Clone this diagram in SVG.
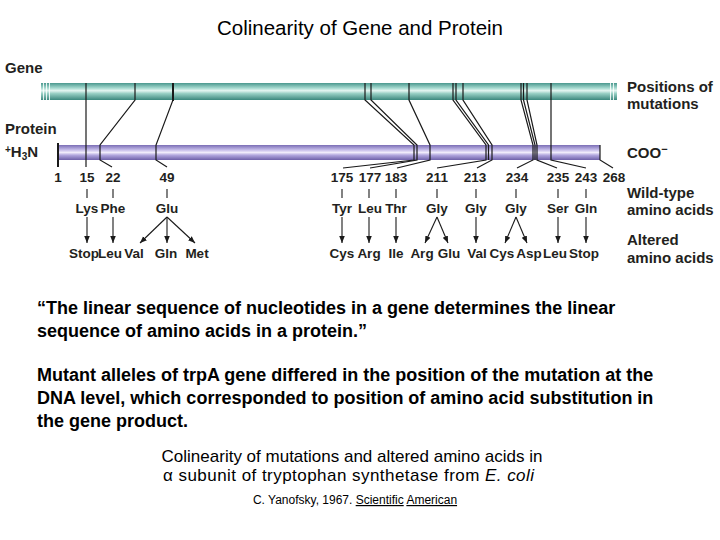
<svg xmlns="http://www.w3.org/2000/svg" width="720" height="540" viewBox="0 0 720 540">
<defs>
<linearGradient id="gGene" x1="0" y1="0" x2="0" y2="1">
<stop offset="0" stop-color="#4a988e"/>
<stop offset="0.3" stop-color="#a6dad0"/>
<stop offset="0.45" stop-color="#e4f5f1"/>
<stop offset="0.62" stop-color="#98cfc4"/>
<stop offset="1" stop-color="#3c887e"/>
</linearGradient>
<linearGradient id="gProt" x1="0" y1="0" x2="0" y2="1">
<stop offset="0" stop-color="#7a6db5"/>
<stop offset="0.33" stop-color="#c6bdea"/>
<stop offset="0.5" stop-color="#f0ecfb"/>
<stop offset="0.68" stop-color="#b1a6de"/>
<stop offset="1" stop-color="#6e61a9"/>
</linearGradient>
<marker id="ah" viewBox="0 0 10 10" refX="10" refY="5" markerWidth="7" markerHeight="7" orient="auto-start-reverse" markerUnits="userSpaceOnUse">
<path d="M0,1 L10,5 L0,9 Z" fill="#1a1a1a"/>
</marker>
<style>
.lbl{font-family:"Liberation Sans",Arial,sans-serif;font-weight:bold;font-size:13.5px;fill:#231f20;text-anchor:middle}
.side{font-family:"Liberation Sans",Arial,sans-serif;font-weight:bold;font-size:15px;fill:#231f20}
.ln{fill:none;stroke:#1a1a1a;stroke-width:1.2}
.tk{stroke:#1a1a1a;stroke-width:1.1}
.ar{stroke:#1a1a1a;stroke-width:1.1;marker-end:url(#ah)}
.body{font-family:"Liberation Sans",Arial,sans-serif;font-weight:bold;font-size:18px;fill:#000}
.cap{font-family:"Liberation Sans",Arial,sans-serif;font-size:17px;fill:#000}
</style>
</defs>
<rect width="720" height="540" fill="#fff"/>

<text x="360" y="35" text-anchor="middle" font-family="Liberation Sans,Arial,sans-serif" font-size="20.5" fill="#000">Colinearity of Gene and Protein</text>

<g id="gene">
<rect x="41" y="83" width="576" height="17" fill="url(#gGene)"/>
<g stroke="#fff" stroke-width="1" opacity="0.85">
<line x1="43.5" y1="83" x2="43.5" y2="100"/><line x1="46.5" y1="83" x2="46.5" y2="100"/><line x1="49.5" y1="83" x2="49.5" y2="100"/>
<line x1="610.5" y1="83" x2="610.5" y2="100"/><line x1="613.5" y1="83" x2="613.5" y2="100"/>
</g>
<text class="side" x="5" y="73">Gene</text>
<text class="side" x="627" y="92">Positions of</text>
<text class="side" x="627" y="109">mutations</text>
</g>

<g id="protein">
<rect x="58" y="145" width="542" height="15" fill="url(#gProt)"/>
<line x1="58" y1="143" x2="58" y2="167" stroke="#1a1a1a" stroke-width="2"/>
<text class="side" x="5" y="134">Protein</text>
<text class="side" x="5" y="157"><tspan font-size="10" dy="-4">+</tspan><tspan dy="4">H</tspan><tspan font-size="10" dy="3">3</tspan><tspan dy="-3">N</tspan></text>
<text class="side" x="627" y="158">COO<tspan font-size="11" dy="-5">−</tspan></text>
</g>

<g id="connectors">
<path class="ln" d="M86,83 V167"/>
<path class="ln" d="M135,83 V100 L100,145 V160 L112,167"/>
<path class="ln" d="M173,83 V100 L156,145 V160 L167,167"/>
<path d="M173,83 V101" stroke="#1a1a1a" stroke-width="2"/>
<path class="ln" d="M365,83 V100 L414,145 V160 L343,168"/>
<path class="ln" d="M371,83 V100 L417,145 V160 L370,168"/>
<path class="ln" d="M409,83 V100 L430,145 V160 L397,168"/>
<path class="ln" d="M453,83 V100 L486,145 V160 L437,168"/>
<path class="ln" d="M456,83 V100 L488.5,145 V160"/>
<path class="ln" d="M463,83 V100 L492,145 V160 L477,168"/>
<path class="ln" d="M521,83 V100 L533,145 V160 L517,168"/>
<path class="ln" d="M523.5,83 V100 L535,145 V160"/>
<path class="ln" d="M527,83 V100 L537,145 V160 L557,168"/>
<path class="ln" d="M551,83 V160 L586,168"/>
<path class="ln" d="M600,145 V160 L613,168"/>
</g>

<g id="positions">
<text class="lbl" x="58" y="182">1</text>
<text class="lbl" x="87" y="182">15</text>
<text class="lbl" x="113" y="182">22</text>
<text class="lbl" x="167" y="182">49</text>
<text class="lbl" x="342" y="182">175</text>
<text class="lbl" x="370" y="182">177</text>
<text class="lbl" x="396" y="182">183</text>
<text class="lbl" x="437" y="182">211</text>
<text class="lbl" x="475" y="182">213</text>
<text class="lbl" x="517" y="182">234</text>
<text class="lbl" x="558" y="182">235</text>
<text class="lbl" x="586" y="182">243</text>
<text class="lbl" x="614" y="182">268</text>
</g>

<g id="ticks">
<line class="tk" x1="87" y1="189" x2="87" y2="198"/>
<line class="tk" x1="113" y1="189" x2="113" y2="198"/>
<line class="tk" x1="167" y1="189" x2="167" y2="198"/>
<line class="tk" x1="342" y1="189" x2="342" y2="198"/>
<line class="tk" x1="369" y1="189" x2="369" y2="198"/>
<line class="tk" x1="396" y1="189" x2="396" y2="198"/>
<line class="tk" x1="437" y1="189" x2="437" y2="198"/>
<line class="tk" x1="476" y1="189" x2="476" y2="198"/>
<line class="tk" x1="516" y1="189" x2="516" y2="198"/>
<line class="tk" x1="558" y1="189" x2="558" y2="198"/>
<line class="tk" x1="586" y1="189" x2="586" y2="198"/>
</g>

<g id="wildtype">
<text class="lbl" x="87" y="213">Lys</text>
<text class="lbl" x="113" y="213">Phe</text>
<text class="lbl" x="167" y="213">Glu</text>
<text class="lbl" x="342" y="213">Tyr</text>
<text class="lbl" x="370" y="213">Leu</text>
<text class="lbl" x="396" y="213">Thr</text>
<text class="lbl" x="437" y="213">Gly</text>
<text class="lbl" x="476" y="213">Gly</text>
<text class="lbl" x="516" y="213">Gly</text>
<text class="lbl" x="558" y="213">Ser</text>
<text class="lbl" x="586" y="213">Gln</text>
<text class="side" x="627" y="198">Wild-type</text>
<text class="side" x="627" y="215">amino acids</text>
</g>

<g id="arrows">
<line class="ar" x1="87" y1="217" x2="87" y2="243"/>
<line class="ar" x1="113" y1="217" x2="113" y2="243"/>
<line class="ar" x1="167" y1="217" x2="140" y2="243"/>
<line class="ar" x1="167" y1="217" x2="167" y2="243"/>
<line class="ar" x1="167" y1="217" x2="195" y2="243"/>
<line class="ar" x1="342" y1="217" x2="342" y2="243"/>
<line class="ar" x1="369" y1="217" x2="369" y2="243"/>
<line class="ar" x1="396" y1="217" x2="396" y2="243"/>
<line class="ar" x1="437" y1="217" x2="425" y2="243"/>
<line class="ar" x1="437" y1="217" x2="448" y2="243"/>
<line class="ar" x1="476" y1="217" x2="476" y2="243"/>
<line class="ar" x1="516" y1="217" x2="505" y2="243"/>
<line class="ar" x1="516" y1="217" x2="527" y2="243"/>
<line class="ar" x1="558" y1="217" x2="558" y2="243"/>
<line class="ar" x1="586" y1="217" x2="586" y2="243"/>
</g>

<g id="altered">
<text class="lbl" x="84" y="258">Stop</text>
<text class="lbl" x="110" y="258">Leu</text>
<text class="lbl" x="134" y="258">Val</text>
<text class="lbl" x="166" y="258">Gln</text>
<text class="lbl" x="197" y="258">Met</text>
<text class="lbl" x="342" y="258">Cys</text>
<text class="lbl" x="369" y="258">Arg</text>
<text class="lbl" x="396" y="258">Ile</text>
<text class="lbl" x="422" y="258">Arg</text>
<text class="lbl" x="449" y="258">Glu</text>
<text class="lbl" x="477" y="258">Val</text>
<text class="lbl" x="502" y="258">Cys</text>
<text class="lbl" x="529" y="258">Asp</text>
<text class="lbl" x="555" y="258">Leu</text>
<text class="lbl" x="584" y="258">Stop</text>
<text class="side" x="627" y="245">Altered</text>
<text class="side" x="627" y="263">amino acids</text>
</g>

<g id="text">
<text class="body" x="37" y="314">“The linear sequence of nucleotides in a gene determines the linear</text>
<text class="body" x="37" y="337">sequence of amino acids in a protein.”</text>
<text class="body" x="37" y="381">Mutant alleles of trpA gene differed in the position of the mutation at the</text>
<text class="body" x="37" y="404">DNA level, which corresponded to position of amino acid substitution in</text>
<text class="body" x="37" y="427">the gene product.</text>
<text class="cap" x="352" y="462" text-anchor="middle">Colinearity of mutations and altered amino acids in</text>
<text class="cap" x="163" y="481" textLength="371" lengthAdjust="spacing">α subunit of tryptophan synthetase from <tspan font-style="italic">E. coli</tspan></text>
<text x="355" y="504" text-anchor="middle" font-family="Liberation Sans,Arial,sans-serif" font-size="12" fill="#000">C. Yanofsky, 1967. <tspan text-decoration="underline">Scientific</tspan> <tspan text-decoration="underline">American</tspan></text>
</g>
</svg>
